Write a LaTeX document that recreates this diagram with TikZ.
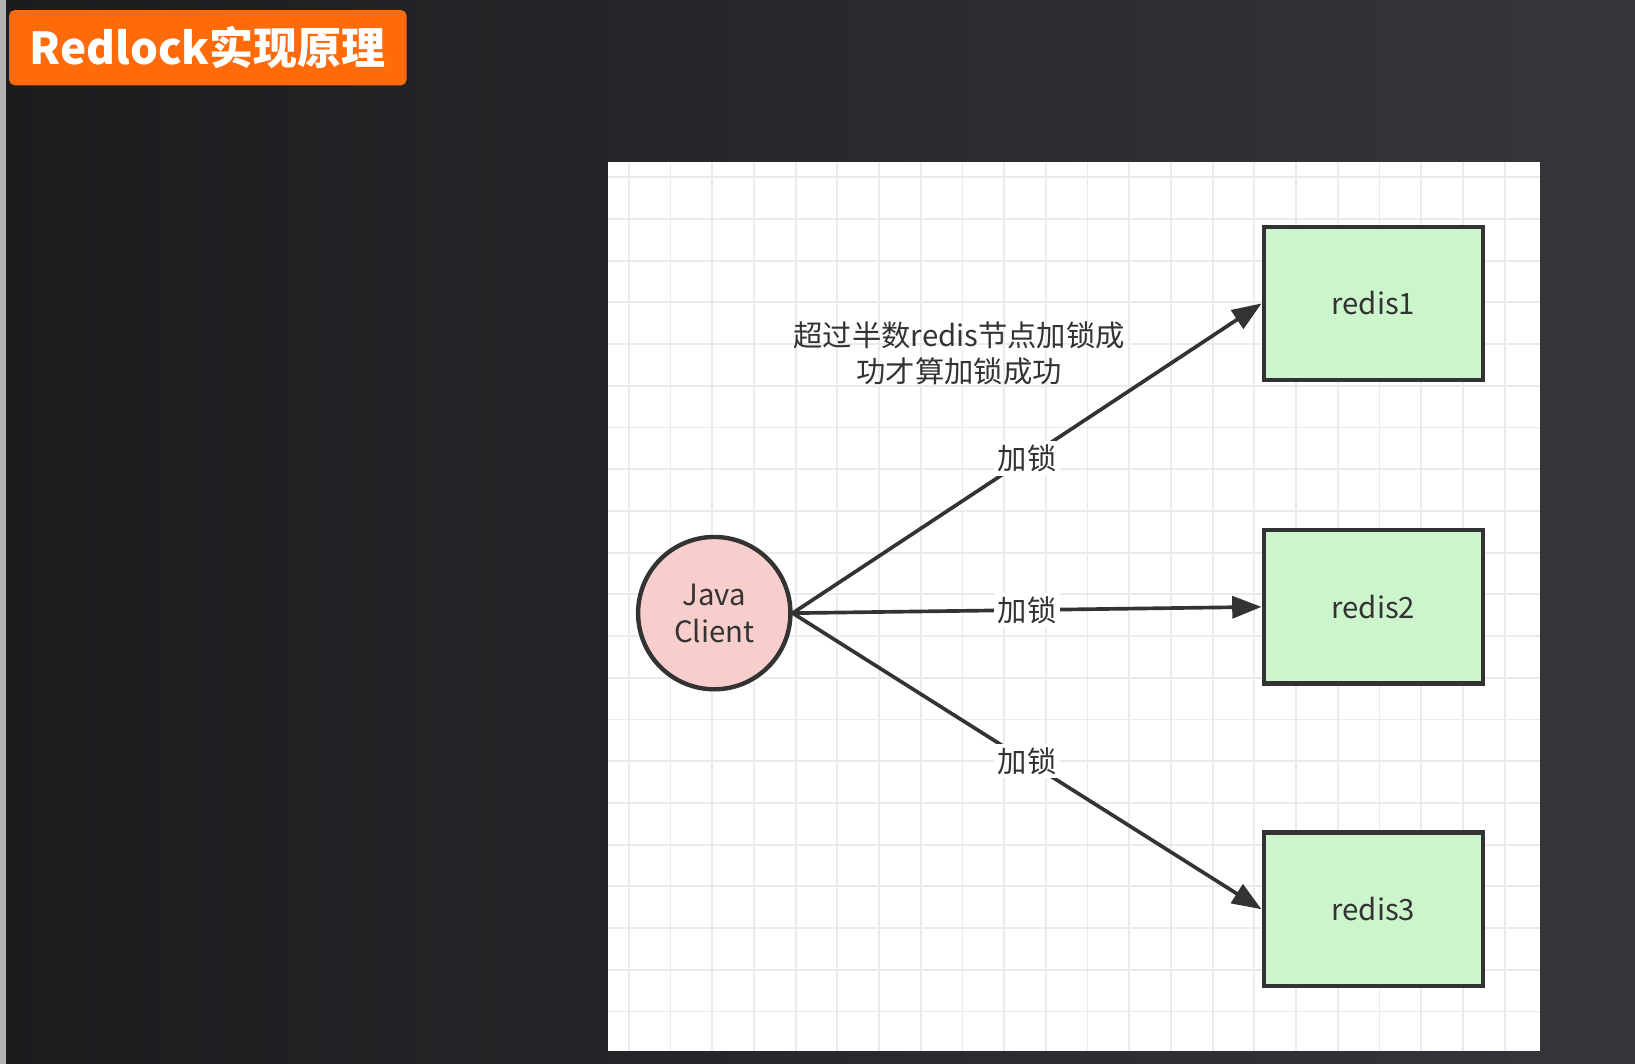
\documentclass[tikz,border=0pt]{standalone}
\usepackage{fontspec}
\setmainfont{Noto Sans CJK SC}
\usetikzlibrary{arrows.meta}
\definecolor{bgdark}{HTML}{1C1C1F}
\definecolor{bgmid}{HTML}{3A3A40}
\definecolor{orng}{HTML}{FF6A0A}
\definecolor{pinkf}{HTML}{F8CECC}
\definecolor{greenf}{HTML}{CCF5CC}
\definecolor{gridc}{HTML}{EBEBEB}
\definecolor{ink}{HTML}{333333}
\tikzset{
  box/.style={draw=ink, line width=1.2pt, fill=greenf, minimum width=2.1cm, minimum height=1.47cm, font=\fontsize{8}{10}\selectfont, text=ink},
  client/.style={circle, draw=ink, line width=1.2pt, fill=pinkf, minimum size=1.46cm, align=center, font=\fontsize{8}{10}\selectfont, text=ink, inner sep=0pt},
  conn/.style={draw=ink, line width=1pt, -{Triangle[length=8pt,width=6pt]}},
  lbl/.style={fill=white, inner sep=1pt, font=\fontsize{8}{10}\selectfont, text=ink},
}
\begin{document}
\begin{tikzpicture}[x=0.01cm,y=-0.01cm]
\useasboundingbox (0,0) rectangle (1568,1020);
\shade[left color=bgdark, right color=bgmid!85!bgdark] (0,0) rectangle (1568,1020);
\shade[top color=bgmid, bottom color=bgmid, middle color=bgmid, opacity=0.0] (0,0) rectangle (1,1);
\fill[gray!60] (0,0) rectangle (6,1020);
\node[fill=orng, rounded corners=1.5pt, minimum width=3.81cm, minimum height=0.72cm, anchor=north west, text=white, font=\bfseries\fontsize{12}{14}\selectfont] (title) at (8,9) {Redlock实现原理};
\fill[white] (583,155) rectangle (1477,1008);
\foreach \x in {603,643,...,1477} \draw[gridc, line width=0.5pt] (\x,155) -- (\x,1008);
\foreach \y in {170,210,...,1008} \draw[gridc, line width=0.5pt] (583,\y) -- (1477,\y);
\node[client] (jc) at (685,588) {Java\\Client};
\node[box] (r1) at (1317,291) {redis1};
\node[box] (r2) at (1317,582) {redis2};
\node[box] (r3) at (1317,872) {redis3};
\draw[conn] (jc.east) -- node[lbl, pos=0.5] {加锁} (r1.west);
\draw[conn] (jc.east) -- node[lbl, pos=0.5] {加锁} (r2.west);
\draw[conn] (jc.east) -- node[lbl, pos=0.5] {加锁} (r3.west);
\node[align=center, text=ink, font=\fontsize{8}{10}\selectfont] (note) at (920,339) {超过半数redis节点加锁成\\功才算加锁成功};
\end{tikzpicture}
\end{document}
